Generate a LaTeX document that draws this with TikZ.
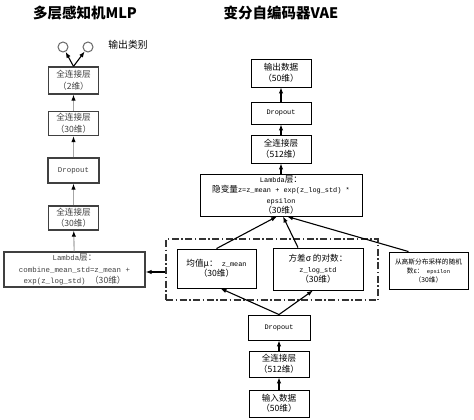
\documentclass[tikz,border=0pt]{standalone}
\usepackage{fontspec}
\setmainfont{Liberation Mono}
\newfontfamily\cjk{Noto Sans CJK SC}
\usetikzlibrary{arrows.meta,calc}
\newcommand{\zh}[1]{{\cjk\fontsize{8.6}{10}\selectfont #1}}
\newcommand{\zs}[1]{{\cjk\fontsize{6.7}{8}\selectfont #1}}
\tikzset{
  mlpbox/.style={draw=black!75,line width=1.3pt,align=center,inner sep=0pt,text=black!75,font=\fontsize{7.4}{11.5}\selectfont},
  vaebox/.style={draw=black,line width=0.9pt,align=center,inner sep=0pt,font=\fontsize{6.9}{10.5}\selectfont},
  garr/.style={draw=black!35,line width=1.1pt,-{Latex[color=black,length=6pt,width=4.5pt]}},
  barr/.style={draw=black,line width=1.1pt,-{Latex[length=6pt,width=4.5pt]}},
  outc/.style={circle,draw=black!60,line width=1pt,minimum size=10pt,inner sep=0pt},
  dashbox/.style={draw=black!80,line width=1.1pt,dash pattern=on 7pt off 2.5pt on 1.5pt off 2.5pt,inner sep=0pt},
  title/.style={font=\cjk\bfseries\fontsize{14.5}{16}\selectfont}
}
\begin{document}
\begin{tikzpicture}[x=1pt,y=-1pt]
\useasboundingbox (0,0) rectangle (474,420);
% titles
\node[title] (t1) at (85,13) {多层感知机MLP};
\node[title] (t2) at (281,13) {变分自编码器VAE};
% MLP
\node[outc] (c1) at (63,47) {};
\node[outc] (c2) at (88,47) {};
\node[font=\cjk\fontsize{9.8}{11}\selectfont] (lab) at (128,45) {输出类别};
\node[mlpbox,minimum width=50pt,minimum height=27pt] (m2) at (73.5,80.5) {\zh{全连接层}\\\zh{（2维）}};
\node[mlpbox,minimum width=50pt,minimum height=24pt] (m30a) at (73.5,123.5) {\zh{全连接层}\\\zh{（30维）}};
\node[mlpbox,minimum width=51pt,minimum height=25pt] (mdrop) at (73.5,170.5) {Dropout};
\node[mlpbox,minimum width=50pt,minimum height=24pt] (m30b) at (73.5,218) {\zh{全连接层}\\\zh{（30维）}};
\node[mlpbox,minimum width=141pt,minimum height=35pt] (mlam) at (74.5,269.5) {Lambda\zh{层：}\\combine\_mean\_std=z\_mean +\\exp(z\_log\_std) \zh{（30维）}};
\draw[barr] (m2.north) -- (c1);
\draw[barr] (m2.north) -- (c2);
\draw[garr] (m30a) -- (m2);
\draw[garr] (mdrop) -- (m30a);
\draw[garr] (m30b) -- (mdrop);
\draw[garr] (mlam) -- (m30b);
% VAE
\node[vaebox,minimum width=60pt,minimum height=28pt] (vout) at (281,73) {\zh{输出数据}\\\zh{（50维）}};
\node[vaebox,minimum width=60pt,minimum height=22pt] (vdrop1) at (281,113) {Dropout};
\node[vaebox,minimum width=60pt,minimum height=28pt] (vfc1) at (281,149) {\zh{全连接层}\\\zh{（512维）}};
\node[vaebox,minimum width=162pt,minimum height=42pt] (vlam) at (281,195) {Lambda\zh{层：}\\\zh{隐变量}z=z\_mean + exp(z\_log\_std) *\\epsilon\\\zh{（30维）}};
\node[dashbox,minimum width=212pt,minimum height=61pt] (dbox) at (272,269.5) {};
\node[vaebox,minimum width=79pt,minimum height=39pt] (vmu) at (216.5,268.5) {\zh{均值μ：} z\_mean\\\zh{（30维）}};
\node[vaebox,minimum width=90pt,minimum height=42pt] (vsig) at (318,269) {\zh{方差σ 的对数：}\\z\_log\_std\\\zh{（30维）}};
\node[vaebox,minimum width=79pt,minimum height=37pt,font=\fontsize{5.5}{9}\selectfont] (vrand) at (428.5,270.5) {\zs{从高斯分布采样的随机}\\\zs{数ε：} epsilon\\\zs{（30维）}};
\node[vaebox,minimum width=62pt,minimum height=25pt] (vdrop2) at (279,327.5) {Dropout};
\node[vaebox,minimum width=60pt,minimum height=26pt] (vfc2) at (279,364) {\zh{全连接层}\\\zh{（512维）}};
\node[vaebox,minimum width=60pt,minimum height=27pt] (vin) at (279,403.5) {\zh{输入数据}\\\zh{（50维）}};
\draw[barr] (vdrop1) -- (vout);
\draw[barr] (vfc1) -- (vdrop1);
\draw[barr] (vlam) -- (vfc1);
\draw[barr] (vmu.north) -- ($(vlam.south)+(-4,0)$);
\draw[barr] ($(vsig.north)+(-20,0)$) -- ($(vlam.south)+(2,0)$);
\draw[barr] ($(vrand.north)+(-20,0)$) -- ($(vlam.south)+(6,0)$);
\draw[barr] (vdrop2.north) -- ($(vmu.south)+(4,0)$);
\draw[barr] (vdrop2.north) -- ($(vsig.south)+(-5,0)$);
\draw[barr] (vfc2) -- (vdrop2);
\draw[barr] (vin) -- (vfc2);
\draw[barr] ($(dbox.west)+(0,2.5)$) -- ($(dbox.west -| mlam.east)+(0,2.5)$);
\end{tikzpicture}
\end{document}
